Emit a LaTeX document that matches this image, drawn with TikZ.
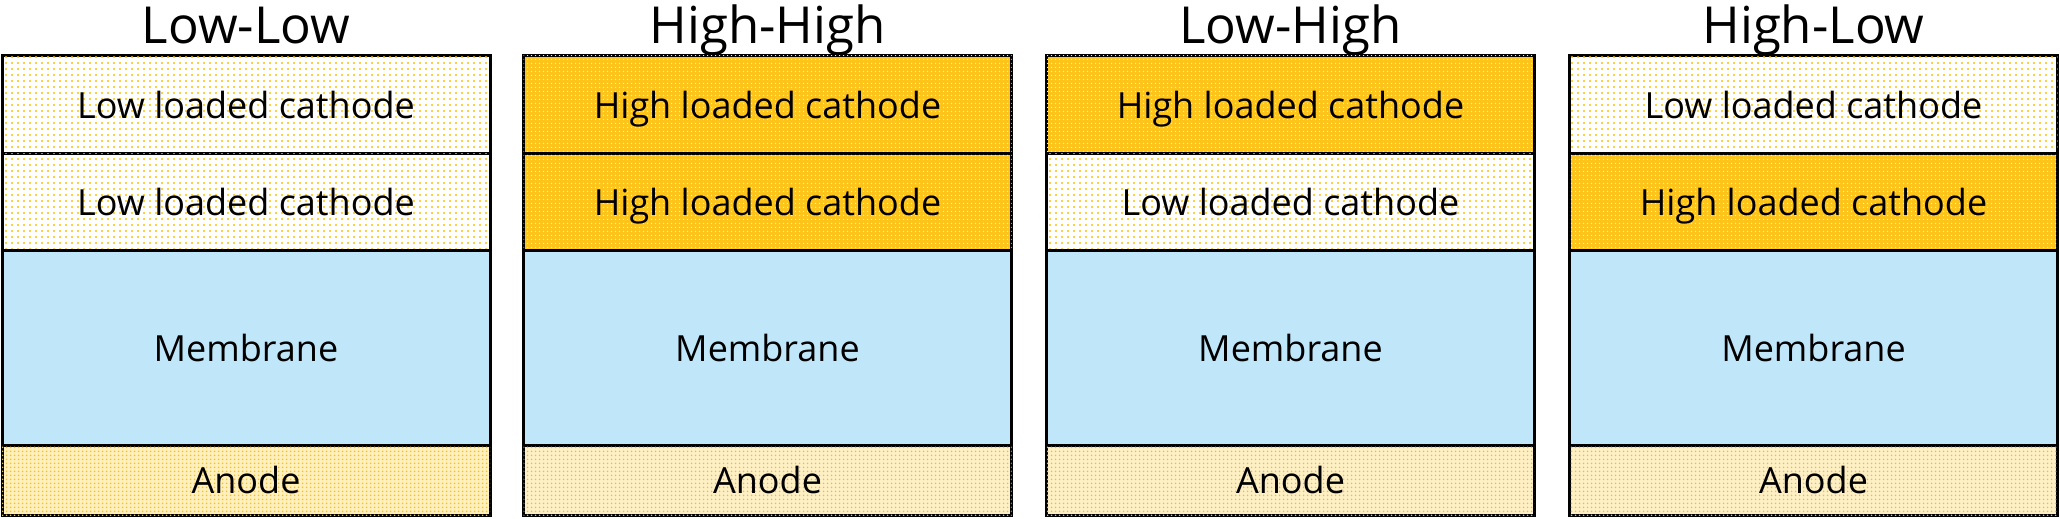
\documentclass[tikz,border=0pt]{standalone}
\usepackage{fontspec}
\setmainfont{Open Sans}
\usetikzlibrary{patterns.meta}
\definecolor{dotc}{HTML}{FFC000}
\definecolor{highc}{HTML}{FFC41A}
\definecolor{anodec}{HTML}{FFF0C4}
\definecolor{membc}{HTML}{C0E6FA}
\tikzset{
  layer/.style={draw=black, line width=3pt, minimum width=488pt, inner sep=0pt, outer sep=0pt,
    font=\fontsize{36}{42}\selectfont, text height=27pt, text depth=0pt},
  lowlayer/.style={layer, fill=white, minimum height=97pt,
    postaction={pattern={Dots[distance=6pt, radius=1.1pt]}, pattern color=dotc}},
  highlayer/.style={layer, fill=highc, minimum height=97pt,
    postaction={pattern={Dots[distance=4pt, radius=0.9pt]}, pattern color=white!70!highc}},
  memblayer/.style={layer, fill=membc, minimum height=195pt},
  anodelayer/.style={layer, fill=anodec, minimum height=70pt,
    postaction={pattern={Dots[distance=4pt, radius=1.1pt]}, pattern color=dotc}},
  coltitle/.style={anchor=base, font=\fontsize{51}{60}\selectfont, inner sep=0pt}
}
\begin{document}
\begin{tikzpicture}[x=1pt,y=-1pt]
\useasboundingbox (0,0) rectangle (2060,519);
% column 1: Low-Low
\node[coltitle] (t1) at (246,44) {Low-Low};
\node[lowlayer] (c1a) at (246,104.5) {Low loaded cathode};
\node[lowlayer] (c1b) at (246,201.5) {Low loaded cathode};
\node[memblayer] (m1) at (246,347.5) {Membrane};
\node[anodelayer] (a1) at (246,480) {Anode};
% column 2: High-High
\node[coltitle] (t2) at (767.5,44) {High-High};
\node[highlayer] (c2a) at (767.5,104.5) {High loaded cathode};
\node[highlayer] (c2b) at (767.5,201.5) {High loaded cathode};
\node[memblayer] (m2) at (767.5,347.5) {Membrane};
\node[anodelayer] (a2) at (767.5,480) {Anode};
% column 3: Low-High
\node[coltitle] (t3) at (1290.5,44) {Low-High};
\node[highlayer] (c3a) at (1290.5,104.5) {High loaded cathode};
\node[lowlayer] (c3b) at (1290.5,201.5) {Low loaded cathode};
\node[memblayer] (m3) at (1290.5,347.5) {Membrane};
\node[anodelayer] (a3) at (1290.5,480) {Anode};
% column 4: High-Low
\node[coltitle] (t4) at (1813.5,44) {High-Low};
\node[lowlayer] (c4a) at (1813.5,104.5) {Low loaded cathode};
\node[highlayer] (c4b) at (1813.5,201.5) {High loaded cathode};
\node[memblayer] (m4) at (1813.5,347.5) {Membrane};
\node[anodelayer] (a4) at (1813.5,480) {Anode};
\end{tikzpicture}
\end{document}
